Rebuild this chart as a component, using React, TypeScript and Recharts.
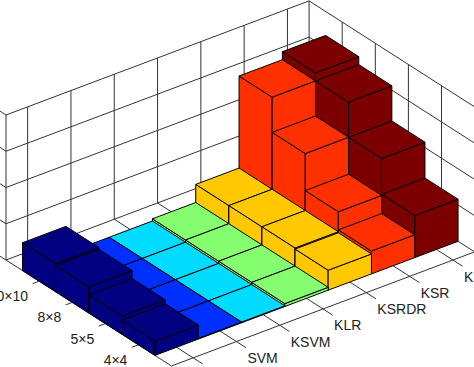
import { ReferenceLine, Scatter, ScatterChart, XAxis, YAxis } from 'recharts'

const WIDTH = 474
const HEIGHT = 367

// the first method's label is cropped off the bottom of the figure, the last one is cut after "K"
const methods = ['', 'SVM', 'KSVM', 'KLR', 'KSRDR', 'KSR', 'K']
const blockSizes = ['10×10', '8×8', '5×5', '4×4']
const zTicks = [0, 10, 20, 30, 40]

const series1 = [7.7, 7.2, 5.0, 3.9]
const series2 = [0.2, 0.2, 0.2, 0.2]
const series3 = [0.2, 0.2, 0.2, 0.2]
const series4 = [0.8, 0.8, 0.8, 0.8]
const series5 = [5.8, 5.8, 5.8, 5.5]
const series6 = [31.2, 21.5, 11.3, 6.3]
const series7 = [33.4, 31.2, 21.5, 11.6]

const allSeries = [series1, series2, series3, series4, series5, series6, series7]
const colors = ['#000080', '#0030ff', '#00dcff', '#85ff70', '#ffc800', '#ff3000', '#7c0000']

// oblique view of the 3d box: screen vector of one unit along each data axis
const origin = { x: 6, y: 260 }
const uStep = { x: 43.3, y: -16.3 }
const vStep = { x: 33.1, y: 21.2 }
const zStep = 3.625

const U_MAX = 7
const V_MAX = 5
const Z_MAX = 40

function project(u: number, v: number, z = 0) {
  return {
    x: origin.x + u * uStep.x + v * vStep.x,
    y: origin.y + u * uStep.y + v * vStep.y - z * zStep,
  }
}

function poly(points: { x: number; y: number }[]) {
  return points.map((p) => `${p.x},${p.y}`).join(' ')
}

function BarBox(props: any) {
  const { cx, cy, payload, fill } = props
  const h = payload.value * zStep
  const a = { x: cx, y: cy - h }
  const b = { x: cx + uStep.x, y: cy + uStep.y - h }
  const c = { x: cx + uStep.x + vStep.x, y: cy + uStep.y + vStep.y - h }
  const d = { x: cx + vStep.x, y: cy + vStep.y - h }
  const down = (p: { x: number; y: number }) => ({ x: p.x, y: p.y + h })
  const style = { fill, stroke: '#000', strokeWidth: 1, strokeLinejoin: 'round' as const }
  return (
    <g>
      <polygon points={poly([a, d, down(d), down(a)])} {...style} />
      <polygon points={poly([d, c, down(c), down(d)])} {...style} />
      <polygon points={poly([a, b, c, d])} {...style} />
    </g>
  )
}

function TickLabel(props: any) {
  const { cx, cy, payload } = props
  return (
    <text
      x={cx + payload.dx}
      y={cy + payload.dy}
      textAnchor={payload.anchor}
      fontFamily="Liberation Sans"
      fontSize={14}
      fill="#222"
    >
      {payload.label}
    </text>
  )
}

const gridSegments: { x: number; y: number }[][] = [
  // back left wall
  ...zTicks.map((z) => [project(0, 0, z), project(U_MAX, 0, z)]),
  ...methods.map((_, i) => [project(i + 0.5, 0), project(i + 0.5, 0, Z_MAX)]),
  [project(0, 0), project(0, 0, Z_MAX)],
  // back right wall
  ...zTicks.map((z) => [project(U_MAX, 0, z), project(U_MAX, V_MAX, z)]),
  ...blockSizes.map((_, i) => [project(U_MAX, i + 1), project(U_MAX, i + 1, Z_MAX)]),
  [project(U_MAX, 0), project(U_MAX, 0, Z_MAX)],
  // floor, with the tick marks running past its edges
  [project(0, 0), project(0, V_MAX)],
  [project(0, V_MAX), project(U_MAX, V_MAX)],
  ...methods.map((_, i) => [project(i + 0.5, 0), project(i + 0.5, V_MAX + 0.29)]),
  ...blockSizes.map((_, i) => [project(-0.15, i + 1), project(U_MAX, i + 1)]),
  // z ticks
  ...zTicks.map((z) => [project(0, -0.18, z), project(0, 0, z)]),
]

const methodLabels = methods
  .map((label, i) => ({ ...project(i + 0.5, V_MAX), label, dx: 11, dy: 21.5, anchor: 'start' }))
  .filter((d) => d.label !== '')

const rowLabels = blockSizes.map((label, i) => ({
  ...project(0, i + 1),
  label,
  dx: -11,
  dy: 20,
  anchor: 'end',
}))

// far method first, back row first, so nearer boxes paint over farther ones
const drawOrder = allSeries.map((values, m) => ({
  m,
  data: values.map((value, r) => ({ ...project(m, r + 0.5), value })),
}))
drawOrder.reverse()

export default function App() {
  return (
    <div style={{ position: 'absolute', left: 0, top: 0, width: WIDTH, height: HEIGHT, overflow: 'hidden' }}>
      <ScatterChart width={WIDTH} height={HEIGHT} margin={{ top: 0, right: 0, bottom: 0, left: 0 }}>
        <XAxis type="number" dataKey="x" domain={[0, WIDTH]} hide allowDataOverflow />
        <YAxis type="number" dataKey="y" domain={[0, HEIGHT]} reversed hide allowDataOverflow width={0} />
        {gridSegments.map((seg, i) => (
          <ReferenceLine
            key={i}
            segment={[seg[0], seg[1]]}
            ifOverflow="visible"
            stroke="#333"
            strokeWidth={1}
          />
        ))}
        {drawOrder.map(({ m, data }) => (
          <Scatter
            key={m}
            data={data}
            fill={colors[m]}
            shape={<BarBox fill={colors[m]} />}
            isAnimationActive={false}
          />
        ))}
        <Scatter data={methodLabels} shape={<TickLabel />} isAnimationActive={false} />
        <Scatter data={rowLabels} shape={<TickLabel />} isAnimationActive={false} />
      </ScatterChart>
    </div>
  )
}
